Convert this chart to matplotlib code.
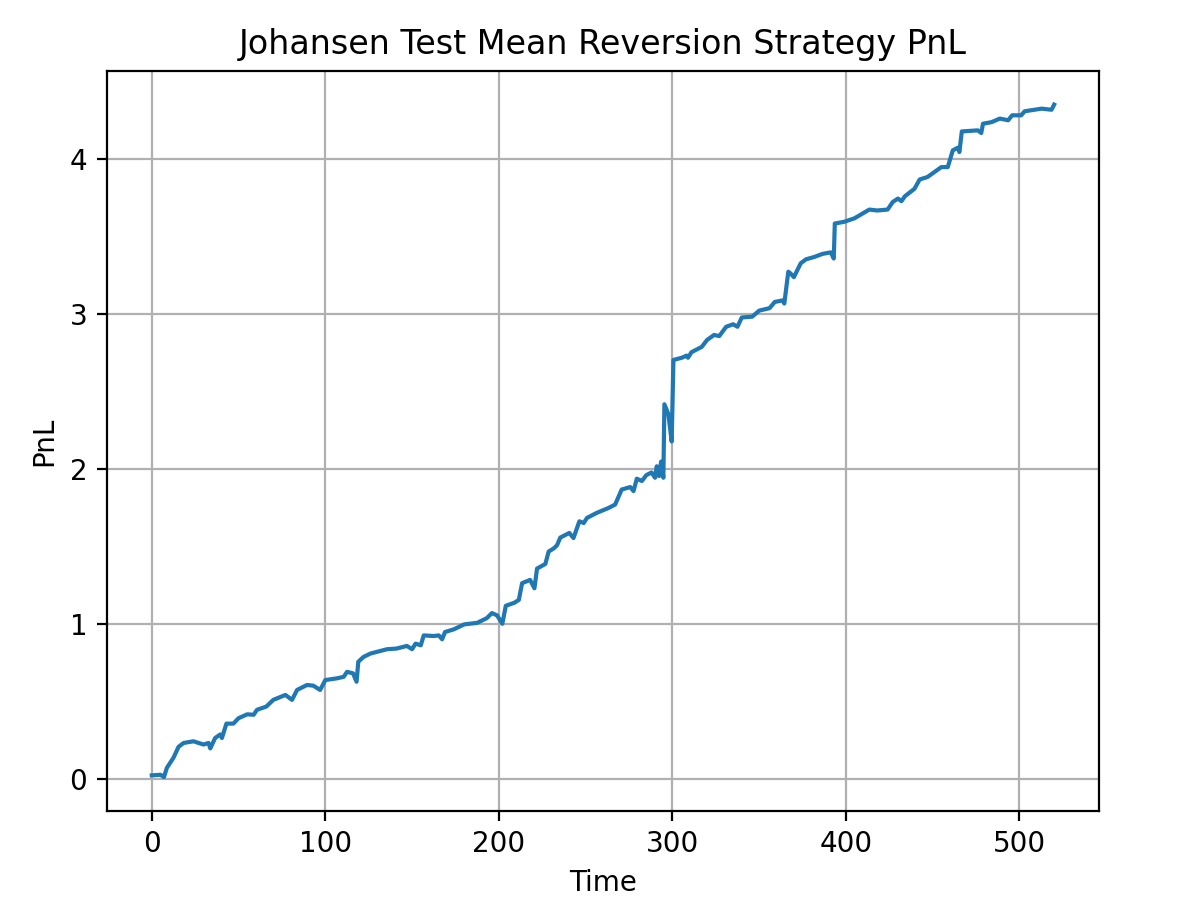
import matplotlib.pyplot as plt

# PnL curve (time index, cumulative PnL)
time = [0, 5, 7, 8.7, 10.6, 12.5, 15.4, 18.3, 24, 29.8, 32.7, 33.7, 36.5, 39.4, 40.4,
        43, 47, 50, 55, 58.7, 60.6, 66, 70, 77, 80.8, 83.7, 89.4, 93, 97, 100,
        106.7, 110.6, 112.5, 116, 118, 119, 122, 126, 135.6, 141, 147, 150, 152, 155,
        156.7, 162.5, 165.4, 167.3, 169, 174, 180, 187.5, 193, 196, 199, 202, 204,
        209, 211.5, 213.4, 218, 220.5, 222, 226.8, 228.7, 231.6, 233.5, 235.4, 240.6,
        243, 246.4, 248.9, 250.8, 256.5, 263, 267, 270.8, 275.7, 277.6, 279.5, 282.4,
        285, 288, 290, 291, 292.3, 293.5, 294.8, 295.4, 297.7, 299.6, 300.6, 305.4,
        308.2, 309, 311, 316.9, 320, 324, 327, 331, 335, 337.5, 340, 346, 350, 356,
        359, 363.5, 364.5, 366.8, 368, 370, 374, 377, 381.7, 386.5, 391.3, 393, 393.6,
        399, 405, 409, 413.5, 418, 424, 427, 430, 432, 434, 439.5, 442.5, 447, 451,
        455, 458.7, 461.6, 464.5, 465.4, 466.8, 476, 478, 479, 484, 488.7, 493.5,
        495.8, 501, 503, 512.7, 518.5, 520]
pnl = [0.026, 0.03, 0.015, 0.075, 0.107, 0.14, 0.21, 0.235, 0.246, 0.225, 0.235, 0.2,
       0.267, 0.29, 0.267, 0.36, 0.36, 0.395, 0.42, 0.417, 0.449, 0.47, 0.513, 0.545,
       0.513, 0.577, 0.609, 0.605, 0.577, 0.641, 0.652, 0.662, 0.694, 0.684, 0.63,
       0.759, 0.79, 0.812, 0.84, 0.844, 0.861, 0.84, 0.876, 0.865, 0.929, 0.925, 0.929,
       0.904, 0.951, 0.968, 1.0, 1.01, 1.04, 1.073, 1.058, 1.004, 1.12, 1.14, 1.158,
       1.266, 1.287, 1.233, 1.36, 1.39, 1.47, 1.49, 1.51, 1.56, 1.59, 1.557, 1.665,
       1.654, 1.687, 1.72, 1.75, 1.773, 1.87, 1.886, 1.86, 1.94, 1.925, 1.963, 1.98,
       1.946, 2.02, 1.957, 2.05, 1.946, 2.42, 2.356, 2.18, 2.706, 2.72, 2.734, 2.72,
       2.756, 2.79, 2.835, 2.867, 2.86, 2.92, 2.936, 2.92, 2.98, 2.985, 3.024, 3.04,
       3.08, 3.09, 3.07, 3.275, 3.265, 3.24, 3.33, 3.355, 3.37, 3.39, 3.40, 3.36,
       3.586, 3.597, 3.62, 3.646, 3.676, 3.67, 3.676, 3.725, 3.747, 3.73, 3.762, 3.81,
       3.87, 3.886, 3.918, 3.95, 3.95, 4.058, 4.075, 4.047, 4.18, 4.187, 4.17, 4.23,
       4.24, 4.263, 4.252, 4.284, 4.284, 4.31, 4.327, 4.32, 4.353]

fig = plt.figure(figsize=(5.96, 4.61), dpi=200)
ax = fig.add_axes([0.0895, 0.1207, 0.8327, 0.8023])
ax.plot(time, pnl)
ax.set_title("Johansen Test Mean Reversion Strategy PnL")
ax.set_xlabel("Time")
ax.set_ylabel("PnL")
ax.grid(True)
fig.savefig("out.png", dpi=200)
